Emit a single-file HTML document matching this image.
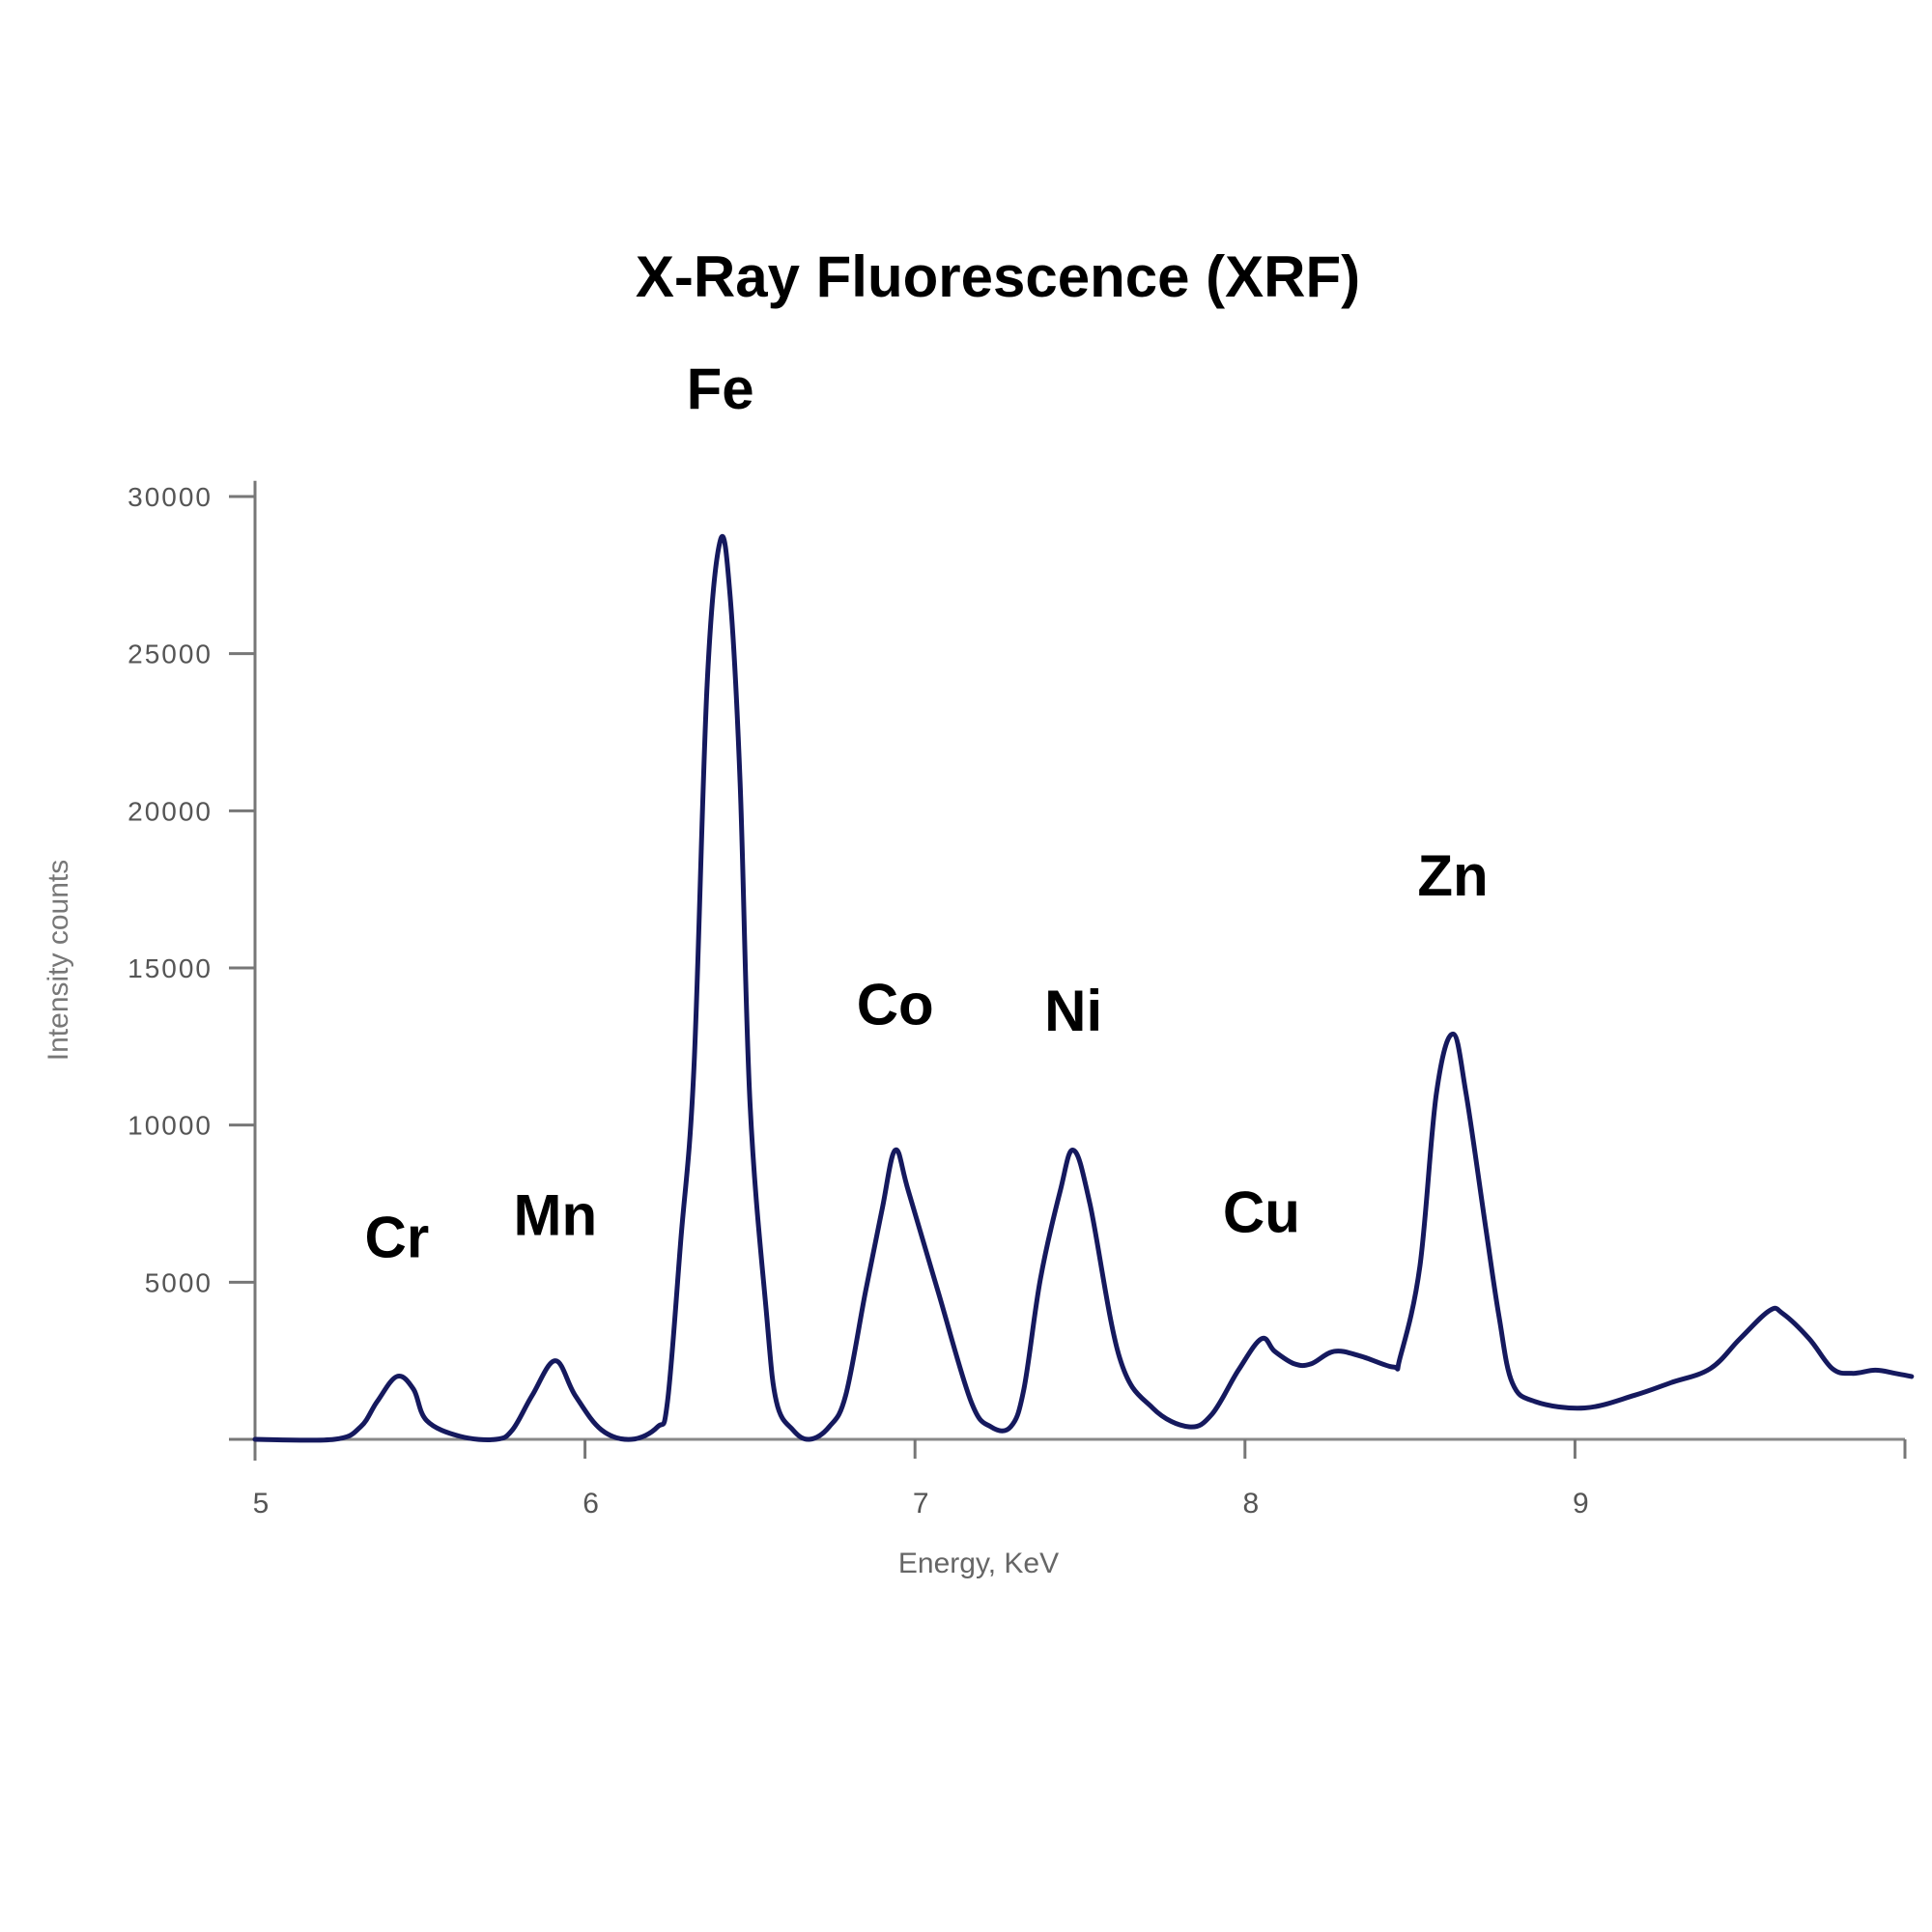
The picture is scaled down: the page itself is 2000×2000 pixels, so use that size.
<!DOCTYPE html>
<html><head><meta charset="utf-8"><style>
html,body{margin:0;padding:0;background:#fff}
svg{display:block}
</style></head><body>
<svg id="chart" width="2000" height="2000" viewBox="0 0 2000 2000" xmlns="http://www.w3.org/2000/svg">
<text x="1033" y="307" text-anchor="middle" font-family="Liberation Sans, sans-serif" font-weight="bold" font-size="60" fill="#000">X-Ray Fluorescence (XRF)</text>
<g id="axes"></g>
<g id="series"></g>
<g id="labels"></g>
<text x="1013" y="1628" text-anchor="middle" font-family="Liberation Sans, sans-serif" font-size="30" fill="#666">Energy, KeV</text>
<text transform="translate(70,994) rotate(-90)" text-anchor="middle" font-family="Liberation Sans, sans-serif" font-size="30" fill="#777">Intensity counts</text>
</svg>
<script>
const energy = [5.0,5.24,5.32,5.37,5.43,5.48,5.52,5.62,5.73,5.78,5.84,5.91,5.97,6.05,6.14,6.22,6.25,6.29,6.33,6.37,6.41,6.44,6.47,6.50,6.55,6.58,6.63,6.68,6.74,6.79,6.85,6.90,6.94,6.98,7.07,7.17,7.23,7.29,7.33,7.38,7.44,7.48,7.53,7.62,7.72,7.83,7.90,7.98,8.05,8.09,8.15,8.20,8.27,8.35,8.45,8.47,8.53,8.58,8.63,8.67,8.73,8.77,8.81,8.88,9.03,9.18,9.29,9.41,9.50,9.59,9.63,9.71,9.78,9.84,9.91,9.97,10.02];
const counts = [0,0,400,1200,2000,1600,600,100,0,300,1400,2500,1400,300,0,400,1200,6300,11800,24000,28600,26800,20900,10700,4000,1200,300,0,400,1400,4700,7300,9200,7900,4700,1200,400,400,1600,5100,7900,9200,7500,2600,1000,400,800,2200,3200,2800,2400,2400,2800,2650,2300,2600,5500,11000,12900,11000,6700,3900,1800,1200,1000,1400,1800,2250,3200,4100,4000,3200,2250,2100,2200,2100,2000];
const xTicks = [5,6,7,8,9,10];
const xTickLabels = ["5","6","7","8","9",""];
const yTicks = [0,5000,10000,15000,20000,25000,30000];
const yTickLabels = ["","5000","10000","15000","20000","25000","30000"];
const peakNames = ["Cr","Mn","Fe","Co","Ni","Cu","Zn"];
const peakEnergy = [5.43,5.91,6.41,6.94,7.48,8.05,8.63];
const peakLabelCounts = [5800,6500,32800,13200,13000,6600,17300];

const X0=264, XS=341.6, Y0=1490, YS=976/30000;
function sx(e){return X0+(e-5)*XS;}
function sy(v){return Y0-v*YS;}
const NS="http://www.w3.org/2000/svg";
function mk(tag,attrs,parent){const el=document.createElementNS(NS,tag);for(const k in attrs)el.setAttribute(k,attrs[k]);parent.appendChild(el);return el;}
const axes=document.getElementById('axes');
let el=mk('line',{x1:sx(5),y1:sy(30500),x2:sx(5),y2:1512,stroke:'#777','stroke-width':3},axes);


el=mk('line',{x1:237,y1:sy(0),x2:sx(10),y2:sy(0),stroke:'#888','stroke-width':3},axes);


yTicks.forEach((t,i)=>{
  const y=sy(t);
  const tk=mk('line',{x1:237,y1:y,x2:sx(5),y2:y,stroke:'#777','stroke-width':3},axes);
  
  
  const tx=mk('text',{x:220,y:y+10,'text-anchor':'end','font-family':'Liberation Sans, sans-serif','font-size':28,fill:'#555','letter-spacing':'2'},axes);
  tx.textContent=yTickLabels[i];
  
  
});
xTicks.forEach((t,i)=>{
  const x=sx(t);
  const tk=mk('line',{x1:x,y1:sy(0),x2:x,y2:1510,stroke:'#777','stroke-width':3},axes);
  
  
  const tx=mk('text',{x:x+6,y:1566,'text-anchor':'middle','font-family':'Liberation Sans, sans-serif','font-size':30,fill:'#555'},axes);
  tx.textContent=xTickLabels[i];
  
  
});
const pts=energy.map((e,i)=>[sx(e),sy(counts[i])]);
let d='M'+pts[0][0]+','+pts[0][1];
for(let i=0;i<pts.length-1;i++){
  const p0=pts[Math.max(0,i-1)],p1=pts[i],p2=pts[i+1],p3=pts[Math.min(pts.length-1,i+2)];
  const t=0.35;
  const c1=[p1[0]+(p2[0]-p0[0])*t/2*1,p1[1]+(p2[1]-p0[1])*t/2];
  const c2=[p2[0]-(p3[0]-p1[0])*t/2,p2[1]-(p3[1]-p1[1])*t/2];
  d+=' C'+c1[0]+','+c1[1]+' '+c2[0]+','+c2[1]+' '+p2[0]+','+p2[1];
}
el=mk('path',{d:d,fill:'none',stroke:'#15195e','stroke-width':5,'stroke-linejoin':'round','stroke-linecap':'round'},document.getElementById('series'));


const lg=document.getElementById('labels');
peakNames.forEach((n,i)=>{
  const tx=mk('text',{x:sx(peakEnergy[i]),y:sy(peakLabelCounts[i]),'text-anchor':'middle','font-family':'Liberation Sans, sans-serif','font-weight':'bold','font-size':60,fill:'#000'},lg);
  tx.textContent=n;
  
  
});
</script>
</body></html>
